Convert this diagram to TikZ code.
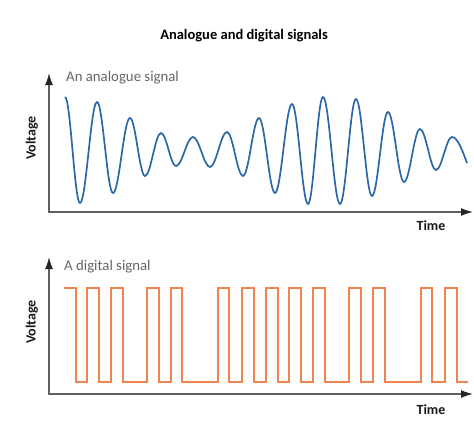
\documentclass[tikz,border=0pt]{standalone}
\usepackage{fontspec}
\setmainfont{Carlito}
\usetikzlibrary{arrows.meta}
\definecolor{sigblue}{RGB}{44,104,166}
\definecolor{sigorange}{RGB}{240,132,76}
\definecolor{axisgray}{RGB}{95,95,95}
\definecolor{labelgray}{RGB}{100,100,100}
\begin{document}
\begin{tikzpicture}[x=1pt,y=-1pt,
  axisline/.style={draw=axisgray,line width=1.4pt,{Latex[length=12pt,width=8pt,color=black!85]}-{Latex[length=12pt,width=8pt,color=black!85]}},
  titletext/.style={font=\bfseries\fontsize{14.5}{16}\selectfont,text=black,inner sep=0pt},
  labeltext/.style={font=\fontsize{14.8}{16}\selectfont,text=labelgray,inner sep=0pt,anchor=west},
  axislabel/.style={font=\bfseries\fontsize{14}{16}\selectfont,text=black!90,inner sep=0pt},
  analogue/.style={draw=sigblue,line width=1.7pt},
  digital/.style={draw=sigorange,line width=1.5pt,line join=miter}]
\useasboundingbox (0,0) rectangle (474,434);
\node[titletext] (title) at (244,36) {Analogue and digital signals};
% analogue panel
\coordinate (ay) at (49,73);
\coordinate (ax) at (473,212);
\draw[axisline] (ay) |- (ax);
\node[labeltext] (alabel) at (66,78) {An analogue signal};
\node[axislabel,rotate=90] (avolt) at (32,138) {Voltage};
\node[axislabel] (atime) at (431,226) {Time};
\draw[analogue] (65,97)
  cos (72.5,150) sin (80,203)
  cos (88.5,152.5) sin (97,102)
  cos (105,147.5) sin (113,193)
  cos (121.5,155.5) sin (130,118)
  cos (137.5,147) sin (145,176)
  cos (153,154.5) sin (161,133)
  cos (168.5,149.5) sin (176,166)
  cos (184.5,151.5) sin (193,137)
  cos (201.5,152) sin (210,167)
  cos (218.5,149.5) sin (227,132)
  cos (235,154) sin (243,176)
  cos (251,147) sin (259,118)
  cos (267,155.5) sin (275,193)
  cos (283.5,148.5) sin (292,104)
  cos (300,154) sin (308,204)
  cos (315.5,150.5) sin (323,97)
  cos (331.5,150.5) sin (340,204)
  cos (348,151.5) sin (356,99)
  cos (364,147.5) sin (372,196)
  cos (380,154) sin (388,112)
  cos (396,147) sin (404,182)
  cos (412,155.5) sin (420,129)
  cos (428,149.5) sin (436,170)
  cos (444,153.5) sin (452,137)
  cos (467,163);
% digital panel
\coordinate (dy) at (49,257);
\coordinate (dx) at (473,394);
\draw[axisline] (dy) |- (dx);
\node[labeltext] (dlabel) at (64,267) {A digital signal};
\node[axislabel,rotate=90] (dvolt) at (32,322) {Voltage};
\node[axislabel] (dtime) at (431,410) {Time};
\draw[digital] (64,288)
  -| (76,382) -| (87,288) -| (99,382) -| (111,288) -| (123,382)
  -| (147,288) -| (159,382) -| (171,288) -| (182,382)
  -| (218,288) -| (229,382) -| (242,288) -| (254,382)
  -| (266,288) -| (278,382) -| (289,288) -| (301,382)
  -| (313,288) -| (325,382) -| (349,288) -| (361,382)
  -| (373,288) -| (385,382) -| (421,288) -| (432,382)
  -| (445,288) -| (457,382) -- (468,382);
\end{tikzpicture}
\end{document}
